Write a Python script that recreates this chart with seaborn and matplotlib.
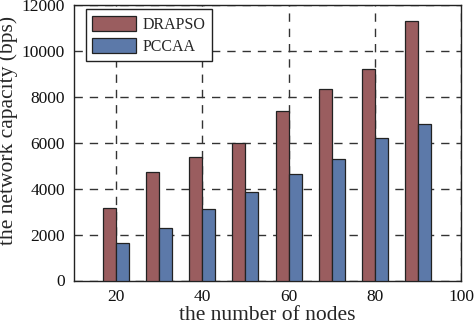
import matplotlib
matplotlib.use("Agg")
import matplotlib.pyplot as plt
import seaborn as sns
import pandas as pd

nodes = [20, 30, 40, 50, 60, 70, 80, 90]
drapso = [3170, 4740, 5360, 6010, 7380, 8360, 9230, 11320]
pccaa = [1650, 2275, 3130, 3840, 4620, 5275, 6190, 6800]
series_names = ["DRAPSO", "PCCAA"]
colors = ["#9a5d5f", "#5c79a9"]

df = pd.DataFrame({
    "nodes": nodes * 2,
    "capacity": drapso + pccaa,
    "method": [series_names[0]] * len(nodes) + [series_names[1]] * len(nodes),
})

sns.set_style("white")
plt.rcParams["font.family"] = ["Liberation Serif", "DejaVu Serif"]

fig = plt.figure(figsize=(4.74, 3.23), dpi=100)
ax = fig.add_axes([73.5 / 474, 1 - 280.5 / 323, (461.3 - 73.5) / 474, (280.5 - 5) / 323])

sns.barplot(data=df, x="nodes", y="capacity", hue="method", native_scale=True,
            palette=colors, width=0.6, edgecolor="#222222", linewidth=0.9,
            saturation=1, ax=ax, zorder=3)

ax.set_xlim(10.2, 100)
ax.set_ylim(0, 12000)
ax.set_xticks([20, 40, 60, 80, 100])
ax.set_yticks([0, 2000, 4000, 6000, 8000, 10000, 12000])
ax.grid(True, linestyle=(0, (6, 5)), color="#333333", linewidth=1.0, zorder=0)
ax.set_axisbelow(True)
for s in ax.spines.values():
    s.set_color("#222222")
    s.set_linewidth(1.0)
ax.tick_params(axis="both", labelsize=12.5, length=0, pad=6, colors="#111111")
ax.set_xlabel("the number of nodes", fontsize=15.5, labelpad=0.5)
ax.set_ylabel("the network capacity (bps)", fontsize=15.5)
ax.yaxis.set_label_coords(-0.142, 0.546)

leg = ax.legend(loc="upper left", bbox_to_anchor=(12.5 / 387.8, 1 - 4.3 / 275.5),
                borderaxespad=0, fontsize=11.5, frameon=True, fancybox=False,
                edgecolor="#222222", handlelength=2.75, handleheight=1.1,
                borderpad=0.4, labelspacing=0.32,
                handletextpad=0.4, title=None)
leg.get_frame().set_linewidth(1.0)
leg.get_frame().set_alpha(1)

fig.savefig("out.png", dpi=100)
